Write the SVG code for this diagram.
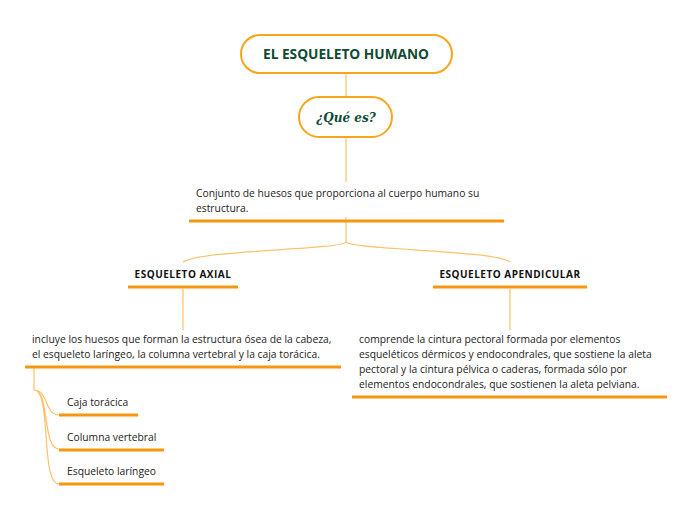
<svg xmlns="http://www.w3.org/2000/svg" width="696" height="520" viewBox="0 0 696 520">
<style>
.box{fill:#fff;stroke:#f8a51c;stroke-width:2}
.ul{stroke:#f7970f;stroke-width:3}
.c{fill:none;stroke:#fbc26a;stroke-width:1.2}
.t{font-family:"Open Sans",sans-serif;font-size:10.3px;fill:#222}
.h{font-family:"Open Sans",sans-serif;font-size:10px;font-weight:bold;fill:#111;letter-spacing:0.5px}
</style>
<rect width="696" height="520" fill="#fff"/>
<g id="connectors">
<path class="c" d="M346,73V97M346,137V182M346,217V242"/>
<path class="c" d="M346,242C340,250 200,250 183,262M346,242C352,250 495,250 510,262"/>
<path class="c" d="M183,289V330M510,289V330"/>
<path class="c" d="M34,368V390C48,390 45,415 59,415M34,390C50,390 42,449 59,449M34,390C52,390 40,484 59,484"/>
</g>
<g id="title"><rect class="box" x="241" y="35" width="211" height="38" rx="19"/>
<text x="346" y="59" text-anchor="middle" style="font-family:'Open Sans',sans-serif;font-size:13.7px;font-weight:bold;fill:#0e4a33">EL ESQUELETO HUMANO</text></g>
<g id="quees"><rect class="box" x="299" y="97" width="93" height="40" rx="20"/>
<text x="346" y="122" text-anchor="middle" style="font-family:'DejaVu Serif',serif;font-style:italic;font-weight:bold;font-size:12px;fill:#0e4a33">¿Qué es?</text></g>
<g id="def"><text class="t" x="196" y="197">Conjunto de huesos que proporciona al cuerpo humano su</text><text class="t" x="196" y="212">estructura.</text><line class="ul" x1="189" y1="221" x2="504" y2="221"/></g>
<g id="axial"><text class="h" x="183" y="278" text-anchor="middle">ESQUELETO AXIAL</text><line class="ul" x1="128" y1="287" x2="238" y2="287"/></g>
<g id="apend"><text class="h" x="510" y="278" text-anchor="middle">ESQUELETO APENDICULAR</text><line class="ul" x1="433" y1="287" x2="587" y2="287"/></g>
<g id="axialdesc"><text class="t" x="32" y="343">incluye los huesos que forman la estructura ósea de la cabeza,</text><text class="t" x="32" y="358">el esqueleto laríngeo, la columna vertebral y la caja torácica.</text><line class="ul" x1="25" y1="367" x2="341" y2="367"/></g>
<g id="apenddesc"><text class="t" x="359" y="343">comprende la cintura pectoral formada por elementos</text><text class="t" x="359" y="358">esqueléticos dérmicos y endocondrales, que sostiene la aleta</text><text class="t" x="359" y="373">pectoral y la cintura pélvica o caderas, formada sólo por</text><text class="t" x="359" y="388">elementos endocondrales, que sostienen la aleta pelviana.</text><line class="ul" x1="352" y1="397" x2="667" y2="397"/></g>
<g id="caja"><text class="t" x="67" y="406">Caja torácica</text><line class="ul" x1="59" y1="415" x2="138" y2="415"/></g>
<g id="columna"><text class="t" x="67" y="441">Columna vertebral</text><line class="ul" x1="59" y1="450" x2="164" y2="450"/></g>
<g id="laringeo"><text class="t" x="67" y="475">Esqueleto laríngeo</text><line class="ul" x1="59" y1="484" x2="164" y2="484"/></g>
</svg>
